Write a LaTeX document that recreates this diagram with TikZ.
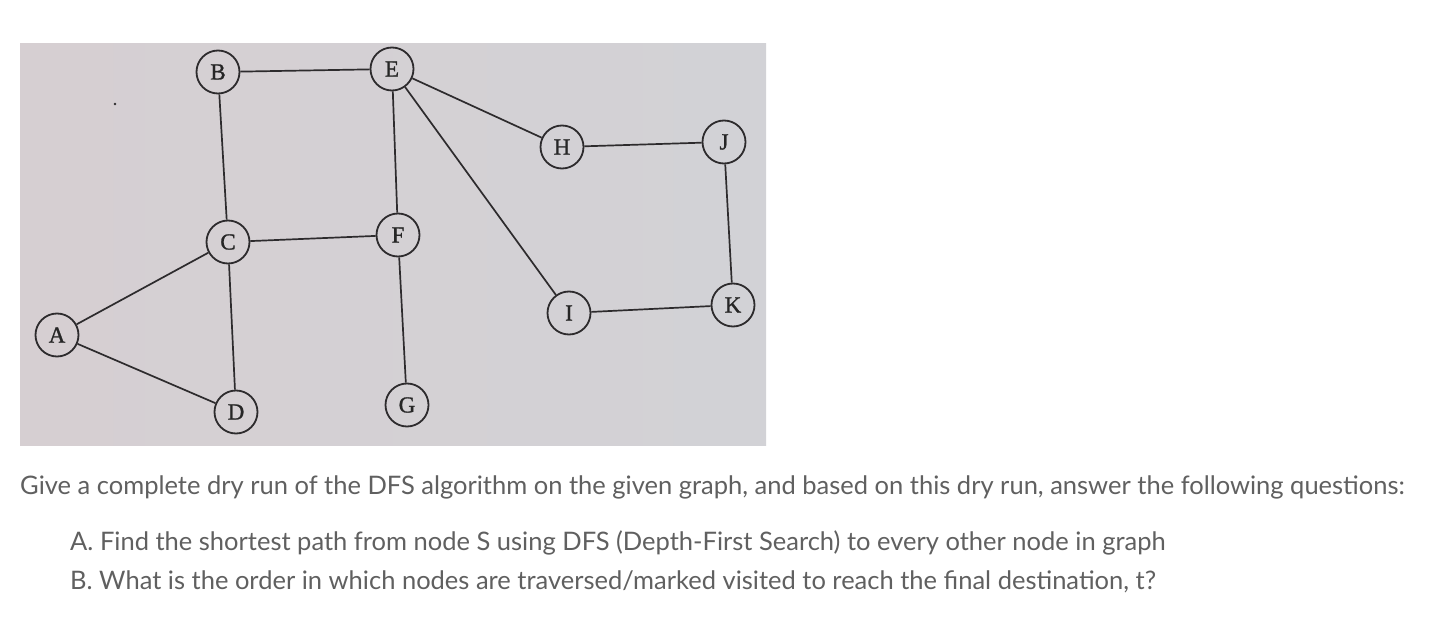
\documentclass[tikz,border=0pt]{standalone}
\usepackage{fontspec}
\setmainfont{Lato}
\newfontfamily\nodeserif[FakeBold=1.2]{Liberation Serif}
\definecolor{edgecol}{RGB}{45,43,45}
\definecolor{txtgray}{RGB}{96,96,96}
\definecolor{photoL}{RGB}{214,207,210}
\definecolor{photoR}{RGB}{210,210,214}
\begin{document}
\begin{tikzpicture}[x=1pt,y=-1pt,
  vtx/.style={circle, draw=edgecol, line width=1.8pt, minimum size=43pt, inner sep=0pt,
    font=\nodeserif\fontsize{23}{23}\selectfont, text=black!85},
  edge/.style={draw=edgecol, line width=1.7pt},
  qtext/.style={anchor=base west, text=txtgray, inner sep=0pt,
    font=\fontsize{25.5}{30}\selectfont}]
\useasboundingbox (0,0) rectangle (1440,628);
\fill[white] (0,0) rectangle (1440,628);
% photo background
\shade[left color=photoL, right color=photoR] (20,44) rectangle (766,445);
\fill[edgecol] (115,104) circle (1.4pt);
% vertices
\node[vtx] (B) at (218,72) {B};
\node[vtx] (E) at (392,69) {E};
\node[vtx] (H) at (562,147) {H};
\node[vtx] (J) at (724,142) {J};
\node[vtx] (C) at (228,242) {C};
\node[vtx] (F) at (398,235) {F};
\node[vtx] (A) at (57,335) {A};
\node[vtx] (D) at (236,412) {D};
\node[vtx] (G) at (407,405) {G};
\node[vtx] (I) at (569,313) {I};
\node[vtx] (K) at (733,305) {K};
% edges
\draw[edge] (B) -- (E);
\draw[edge] (B) -- (C);
\draw[edge] (E) -- (F);
\draw[edge] (E) -- (H);
\draw[edge] (E) -- (I);
\draw[edge] (H) -- (J);
\draw[edge] (J) -- (K);
\draw[edge] (C) -- (F);
\draw[edge] (C) -- (A);
\draw[edge] (C) -- (D);
\draw[edge] (A) -- (D);
\draw[edge] (F) -- (G);
\draw[edge] (I) -- (K);
% question text
\node[qtext] (q1) at (20,494) {Give a complete dry run of the DFS algorithm on the given graph, and based on this dry run, answer the following questions:};
\node[qtext] (q2) at (70,550) {A. Find the shortest path from node S using DFS (Depth-First Search) to every other node in graph};
\node[qtext] (q3) at (70,589) {B. What is the order in which nodes are traversed/marked visited to reach the final destination, t?};
\end{tikzpicture}
\end{document}
